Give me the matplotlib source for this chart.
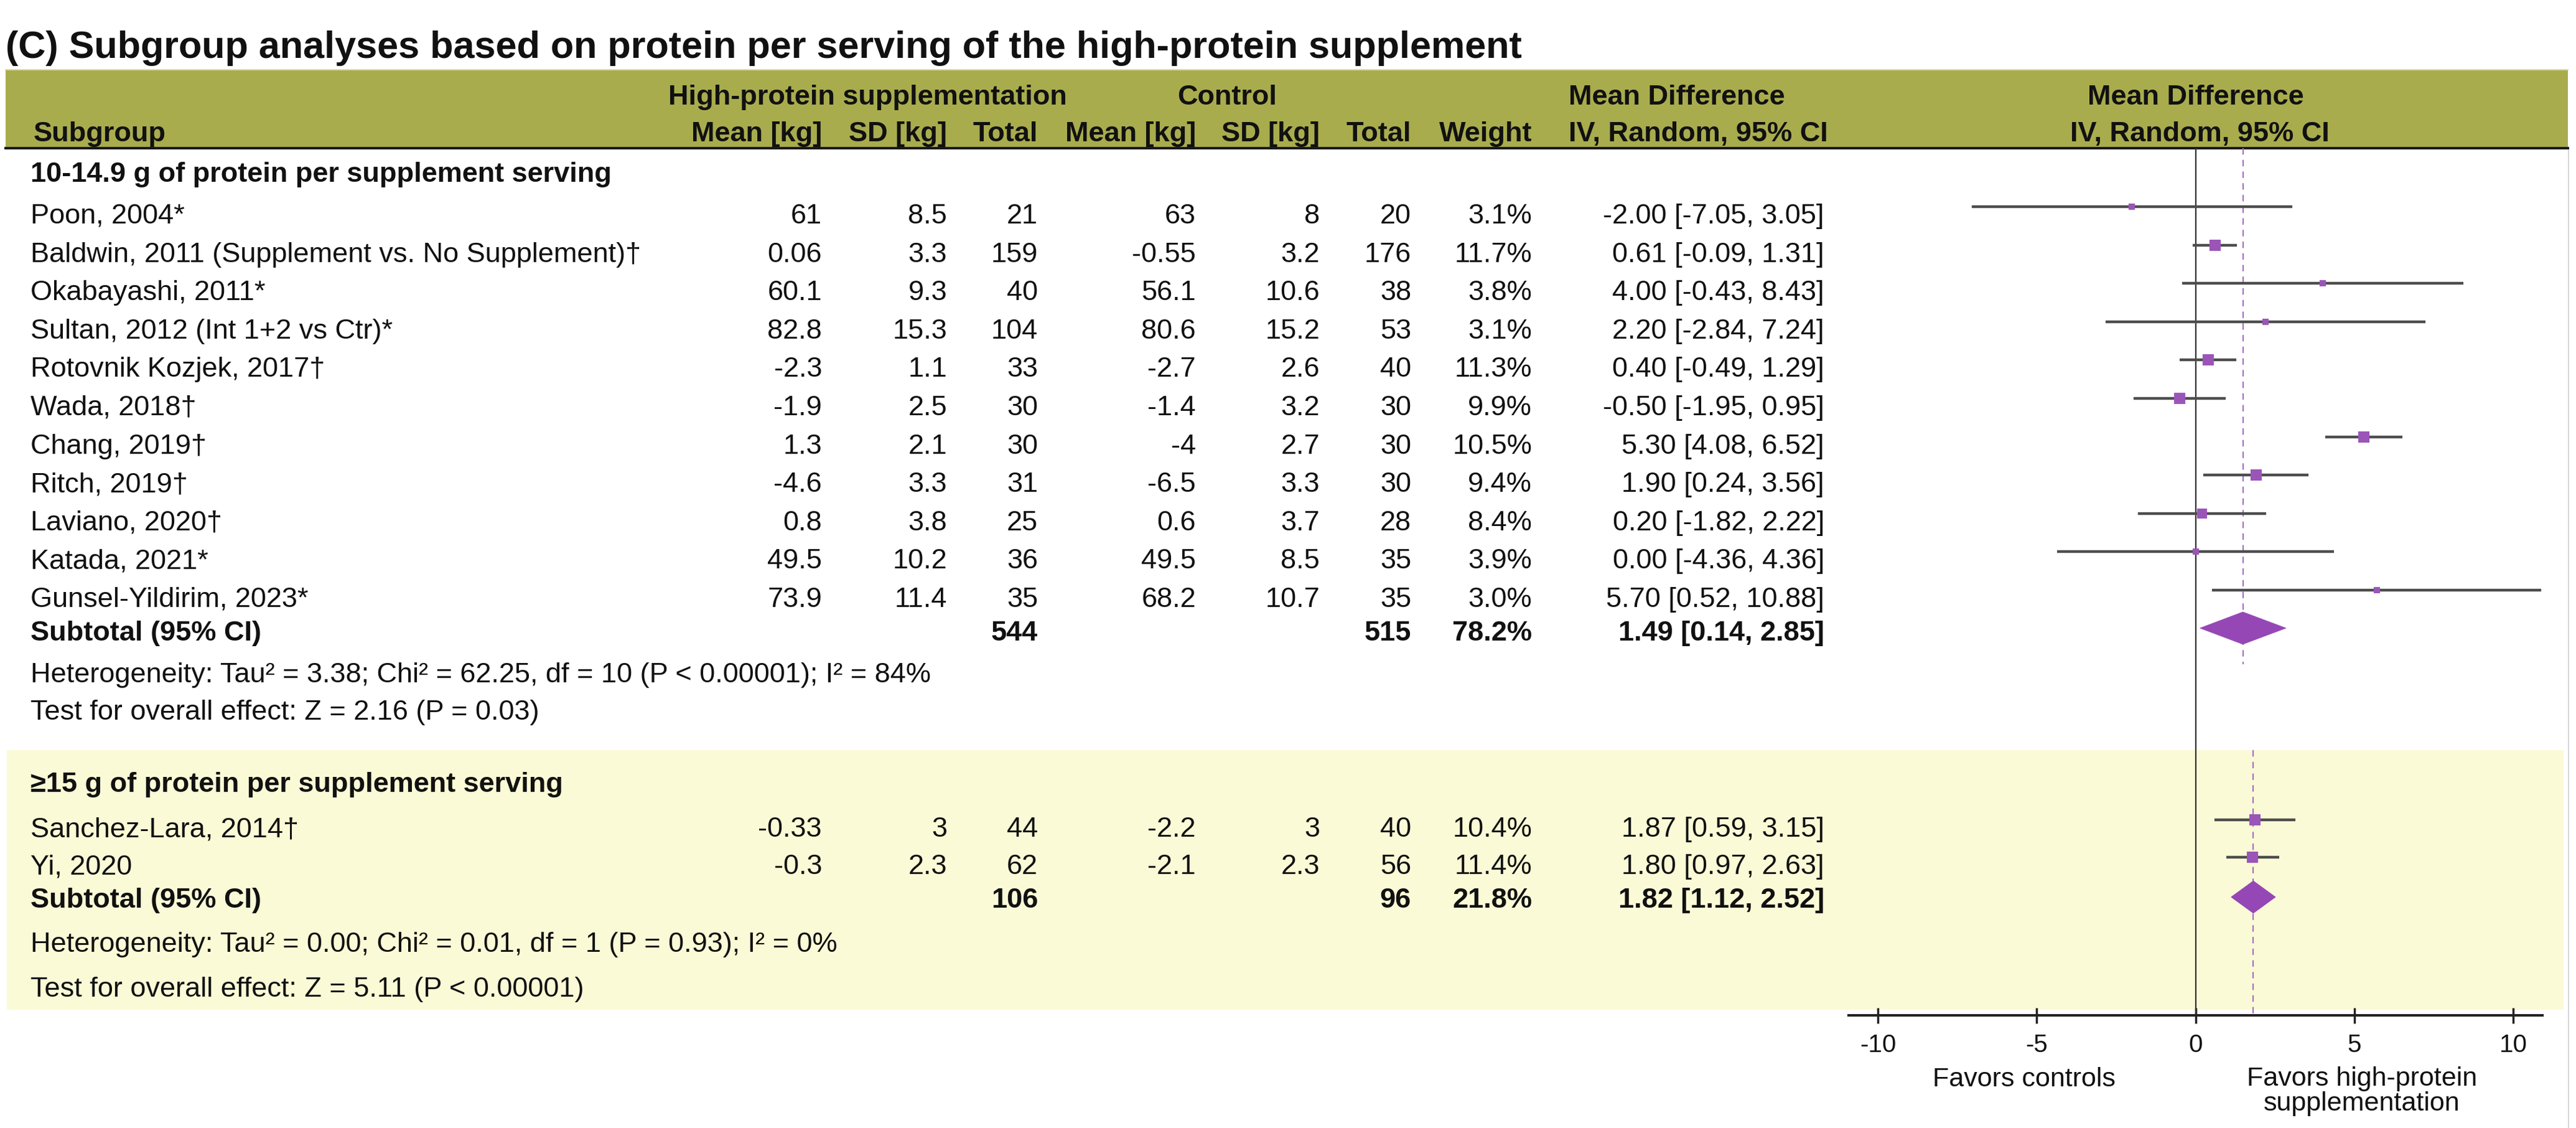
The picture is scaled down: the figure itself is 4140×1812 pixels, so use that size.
import numpy as np
import matplotlib
matplotlib.use("Agg")
import matplotlib.pyplot as plt
from matplotlib.patches import Rectangle, Polygon

plt.rcParams['font.family'] = ['Liberation Sans', 'DejaVu Sans']
plt.rcParams['axes.unicode_minus'] = False

# ---------------- data ----------------
title = "(C) Subgroup analyses based on protein per serving of the high-protein supplement"

g1_label = "10-14.9 g of protein per supplement serving"
g1_studies = ["Poon, 2004*", "Baldwin, 2011 (Supplement vs. No Supplement)\u2020", "Okabayashi, 2011*",
              "Sultan, 2012 (Int 1+2 vs Ctr)*", "Rotovnik Kozjek, 2017\u2020", "Wada, 2018\u2020",
              "Chang, 2019\u2020", "Ritch, 2019\u2020", "Laviano, 2020\u2020", "Katada, 2021*",
              "Gunsel-Yildirim, 2023*"]
g1_exp_mean = [61, 0.06, 60.1, 82.8, -2.3, -1.9, 1.3, -4.6, 0.8, 49.5, 73.9]
g1_exp_sd = [8.5, 3.3, 9.3, 15.3, 1.1, 2.5, 2.1, 3.3, 3.8, 10.2, 11.4]
g1_exp_n = [21, 159, 40, 104, 33, 30, 30, 31, 25, 36, 35]
g1_ctl_mean = [63, -0.55, 56.1, 80.6, -2.7, -1.4, -4, -6.5, 0.6, 49.5, 68.2]
g1_ctl_sd = [8, 3.2, 10.6, 15.2, 2.6, 3.2, 2.7, 3.3, 3.7, 8.5, 10.7]
g1_ctl_n = [20, 176, 38, 53, 40, 30, 30, 30, 28, 35, 35]
g1_weight = [3.1, 11.7, 3.8, 3.1, 11.3, 9.9, 10.5, 9.4, 8.4, 3.9, 3.0]
g1_md = [-2.00, 0.61, 4.00, 2.20, 0.40, -0.50, 5.30, 1.90, 0.20, 0.00, 5.70]
g1_lo = [-7.05, -0.09, -0.43, -2.84, -0.49, -1.95, 4.08, 0.24, -1.82, -4.36, 0.52]
g1_hi = [3.05, 1.31, 8.43, 7.24, 1.29, 0.95, 6.52, 3.56, 2.22, 4.36, 10.88]
g1_sub = dict(exp_n=544, ctl_n=515, weight=78.2, md=1.49, lo=0.14, hi=2.85)
g1_het = "Heterogeneity: Tau\u00b2 = 3.38; Chi\u00b2 = 62.25, df = 10 (P < 0.00001); I\u00b2 = 84%"
g1_test = "Test for overall effect: Z = 2.16 (P = 0.03)"

g2_label = "\u226515 g of protein per supplement serving"
g2_studies = ["Sanchez-Lara, 2014\u2020", "Yi, 2020"]
g2_exp_mean = [-0.33, -0.3]
g2_exp_sd = [3, 2.3]
g2_exp_n = [44, 62]
g2_ctl_mean = [-2.2, -2.1]
g2_ctl_sd = [3, 2.3]
g2_ctl_n = [40, 56]
g2_weight = [10.4, 11.4]
g2_md = [1.87, 1.80]
g2_lo = [0.59, 0.97]
g2_hi = [3.15, 2.63]
g2_sub = dict(exp_n=106, ctl_n=96, weight=21.8, md=1.82, lo=1.12, hi=2.52)
g2_het = "Heterogeneity: Tau\u00b2 = 0.00; Chi\u00b2 = 0.01, df = 1 (P = 0.93); I\u00b2 = 0%"
g2_test = "Test for overall effect: Z = 5.11 (P < 0.00001)"

x_ticks = [-10, -5, 0, 5, 10]
x_ticklabels = ["-10", "-5", "0", "5", "10"]
favors_left = "Favors controls"
favors_right = ["Favors high-protein", "supplementation"]

# ---------------- styling ----------------
W, H = 4140, 1812
GREEN = '#A8AC4D'
YELLOW = '#FAFAD6'
PURPLE = '#9B55B9'
DIAMOND = '#9547B5'
CI_COL = '#4d4d4d'
DASH_COL = '#A66BC4'
FS = 32.5
FS_TITLE = 44

fig = plt.figure(figsize=(W / 100, H / 100), dpi=100)
bg = fig.add_axes([0, 0, 1, 1])
bg.set_xlim(0, W)
bg.set_ylim(H, 0)
bg.axis('off')


def T(x, y, s, ha='left', bold=False, size=FS):
    bg.text(x, y, s, ha=ha, va='baseline', fontsize=size,
            fontweight='bold' if bold else 'normal', color='#111111')


# bands
bg.add_patch(Rectangle((9, 111), 4118, 127, facecolor=GREEN, edgecolor='none', zorder=0))
bg.plot([9, 4127], [112, 112], color='#d8dca0', lw=1.5, zorder=1)
bg.plot([9, 4127], [238, 238], color='#1a1a1a', lw=2.9, zorder=2)
bg.add_patch(Rectangle((11, 1205), 4109, 417, facecolor=YELLOW, edgecolor='none', zorder=0))
bg.plot([4128, 4128], [238, H], color='#d0d0d0', lw=1.2, zorder=1)

# title
T(9, 93, title, bold=True, size=FS_TITLE)

# column layout (right edges)
X_NAME = 49
X_EM, X_ES, X_EN = 1321, 1522, 1668
X_CM, X_CS, X_CN = 1922, 2121, 2268
X_W = 2462
X_CI = 2932

# header
T(1394, 168, "High-protein supplementation", ha='center', bold=True)
T(1972, 168, "Control", ha='center', bold=True)
T(2521, 168, "Mean Difference", bold=True)
T(3529, 168, "Mean Difference", ha='center', bold=True)
T(54, 227, "Subgroup", bold=True)
for x, s in [(X_EM, "Mean [kg]"), (X_ES, "SD [kg]"), (X_EN, "Total"),
             (X_CM, "Mean [kg]"), (X_CS, "SD [kg]"), (X_CN, "Total"), (X_W, "Weight")]:
    T(x, 227, s, ha='right', bold=True)
T(2521, 227, "IV, Random, 95% CI", bold=True)
T(3535, 227, "IV, Random, 95% CI", ha='center', bold=True)

# forest axes
AX_L, AX_R, AX_T, AX_B = 2971, 4086, 238, 1631
ax = fig.add_axes([AX_L / W, (H - AX_B) / H, (AX_R - AX_L) / W, (AX_B - AX_T) / H])
ax.set_facecolor('none')
ax.set_xlim(-10.92, 10.92)
ax.set_ylim(AX_B, AX_T)
for sp in ['top', 'left', 'right']:
    ax.spines[sp].set_visible(False)
ax.spines['bottom'].set_linewidth(2.9)
ax.spines['bottom'].set_color('#222222')
ax.set_yticks([])
ax.set_xticks(x_ticks)
ax.set_xticklabels(x_ticklabels)
ax.tick_params(axis='x', direction='inout', length=18, width=2.5, color='#222222',
               labelsize=29, pad=12, labelcolor='#111111')
ax.axvline(0, color='#333333', lw=1.6, zorder=2)


def fmt(v):
    return f"{v:g}"


def study_rows(bases, names, em, es, en, cm, cs, cn, w, md, lo, hi):
    for i, yb in enumerate(bases):
        T(X_NAME, yb, names[i])
        T(X_EM, yb, fmt(em[i]), ha='right')
        T(X_ES, yb, fmt(es[i]), ha='right')
        T(X_EN, yb, fmt(en[i]), ha='right')
        T(X_CM, yb, fmt(cm[i]), ha='right')
        T(X_CS, yb, fmt(cs[i]), ha='right')
        T(X_CN, yb, fmt(cn[i]), ha='right')
        T(X_W, yb, f"{w[i]:.1f}%", ha='right')
        T(X_CI, yb, f"{md[i]:.2f} [{lo[i]:.2f}, {hi[i]:.2f}]", ha='right')
        ym = yb - 27
        ax.hlines(ym, lo[i], hi[i], color=CI_COL, lw=3.2, zorder=3)
        side_px = 19 * np.sqrt(w[i] / 11.7)
        ax.plot(md[i], ym, marker='s', ms=side_px / 1.389, color=PURPLE,
                mec=PURPLE, mew=0, zorder=4)


def subtotal(yb, sub, yd):
    T(X_NAME, yb, "Subtotal (95% CI)", bold=True)
    T(X_EN, yb, fmt(sub['exp_n']), ha='right', bold=True)
    T(X_CN, yb, fmt(sub['ctl_n']), ha='right', bold=True)
    T(X_W, yb, f"{sub['weight']:.1f}%", ha='right', bold=True)
    T(X_CI, yb, f"{sub['md']:.2f} [{sub['lo']:.2f}, {sub['hi']:.2f}]", ha='right', bold=True)
    h = 26
    ax.add_patch(Polygon([(sub['lo'], yd), (sub['md'], yd - h), (sub['hi'], yd), (sub['md'], yd + h)],
                         closed=True, facecolor=DIAMOND, edgecolor=DIAMOND, lw=0.5, zorder=4))


# group 1
T(X_NAME, 292, g1_label, bold=True)
g1_bases = [359 + 61.6 * i for i in range(len(g1_studies))]
study_rows(g1_bases, g1_studies, g1_exp_mean, g1_exp_sd, g1_exp_n, g1_ctl_mean, g1_ctl_sd,
           g1_ctl_n, g1_weight, g1_md, g1_lo, g1_hi)
subtotal(1029, g1_sub, 1009)
T(X_NAME, 1096, g1_het)
T(X_NAME, 1156, g1_test)
ax.vlines(g1_sub['md'], AX_T, 1067, color=DASH_COL, lw=1.5, linestyles=(0, (5, 4)), zorder=2)

# group 2
T(X_NAME, 1272, g2_label, bold=True)
g2_bases = [1344 + 60 * i for i in range(len(g2_studies))]
study_rows(g2_bases, g2_studies, g2_exp_mean, g2_exp_sd, g2_exp_n, g2_ctl_mean, g2_ctl_sd,
           g2_ctl_n, g2_weight, g2_md, g2_lo, g2_hi)
subtotal(1458, g2_sub, 1441)
T(X_NAME, 1529, g2_het)
T(X_NAME, 1601, g2_test)
ax.vlines(g2_sub['md'], 1205, AX_B, color=DASH_COL, lw=1.5, linestyles=(0, (5, 4)), zorder=2)

# favors labels
T(3253, 1745, favors_left, ha='center', size=31)
T(3796, 1744, favors_right[0], ha='center', size=31)
T(3796, 1784, favors_right[1], ha='center', size=31)

fig.savefig("out.png", dpi=100, facecolor='white')
